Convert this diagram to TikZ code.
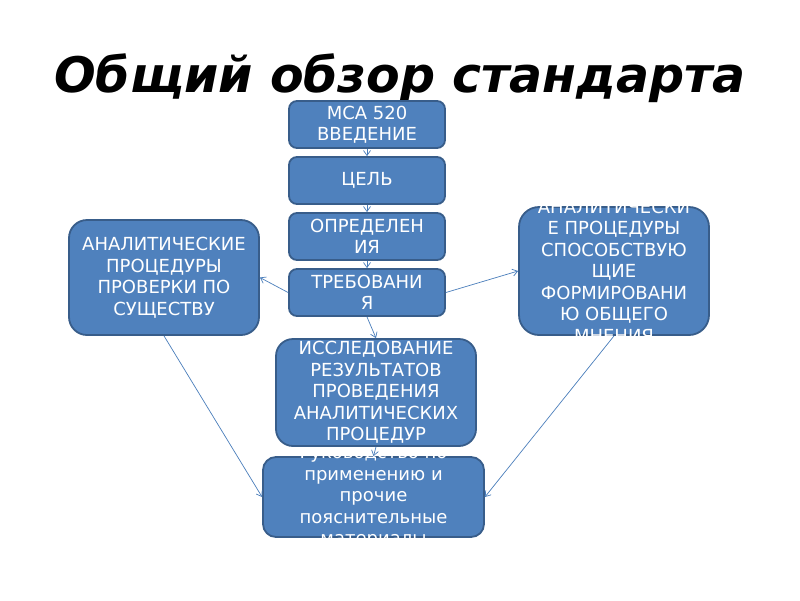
\documentclass[tikz,border=0pt]{standalone}
\usepackage{fontspec}
\setmainfont{DejaVu Sans}
\usetikzlibrary{arrows.meta}
\definecolor{boxfill}{HTML}{4F81BD}
\definecolor{boxline}{HTML}{385D8A}
\definecolor{conn}{HTML}{4A7EBB}
\tikzset{
  box/.style={draw=boxline, fill=boxfill, line width=1.8pt, inner sep=0pt},
  boxtext/.style={text=white, align=center, inner sep=0pt,
    font=\fontsize{18}{21.5}\selectfont},
  conn/.style={draw=conn, line width=0.7pt, -{Straight Barb[length=5pt,width=7pt]}},
}
\newcommand{\boxnode}[7]{% name, cx, cy, w, h, radius, text
  \node[box, rounded corners=#6, minimum width=#4, minimum height=#5] (#1) at (#2,#3) {};
  \begin{scope}
    \clip[rounded corners=#6] (#1.south west) rectangle (#1.north east);
    \node[boxtext] (#1-t) at (#2,#3) {#7};
  \end{scope}
}
\begin{document}
\begin{tikzpicture}[x=1pt,y=-1pt]
\useasboundingbox (0,0) rectangle (800,600);
\fill[white] (0,0) rectangle (800,600);
\node[font=\fontsize{49}{52}\selectfont\bfseries\itshape, inner sep=0pt] (title) at (400,78) {Общий обзор стандарта};

\boxnode{intro}{367}{124.5}{156}{47}{8pt}{МСА 520\\ВВЕДЕНИЕ}
\boxnode{goal}{367}{180.5}{156}{47}{8pt}{ЦЕЛЬ}
\boxnode{defs}{367}{236.5}{156}{47}{8pt}{ОПРЕДЕЛЕН\\ИЯ}
\boxnode{req}{367}{292.5}{156}{47}{8pt}{ТРЕБОВАНИ\\Я}
\boxnode{left}{164}{277.5}{190}{115}{18pt}{АНАЛИТИЧЕСКИЕ\\ПРОЦЕДУРЫ\\ПРОВЕРКИ ПО\\СУЩЕСТВУ}
\boxnode{right}{614}{271}{190}{128}{20pt}{АНАЛИТИЧЕСКИ\\Е ПРОЦЕДУРЫ\\СПОСОБСТВУЮ\\ЩИЕ\\ФОРМИРОВАНИ\\Ю ОБЩЕГО\\МНЕНИЯ}
\boxnode{research}{376}{392.5}{200}{107}{17pt}{ИССЛЕДОВАНИЕ\\РЕЗУЛЬТАТОВ\\ПРОВЕДЕНИЯ\\АНАЛИТИЧЕСКИХ\\ПРОЦЕДУР}
\boxnode{guide}{373.5}{497}{221}{80}{13pt}{Руководство по\\применению и\\прочие\\пояснительные\\материалы}

\draw[conn] (intro.south) -- (goal.north);
\draw[conn] (goal.south) -- (defs.north);
\draw[conn] (defs.south) -- (req.north);
\draw[conn] (req.west) -- (left.east);
\draw[conn] (req.east) -- (right.west);
\draw[conn] (req.south) -- (research.north);
\draw[conn] (research.south) -- (guide.north);
\draw[conn] (left.south) -- (guide.west);
\draw[conn] (right.south) -- (guide.east);
\end{tikzpicture}
\end{document}
